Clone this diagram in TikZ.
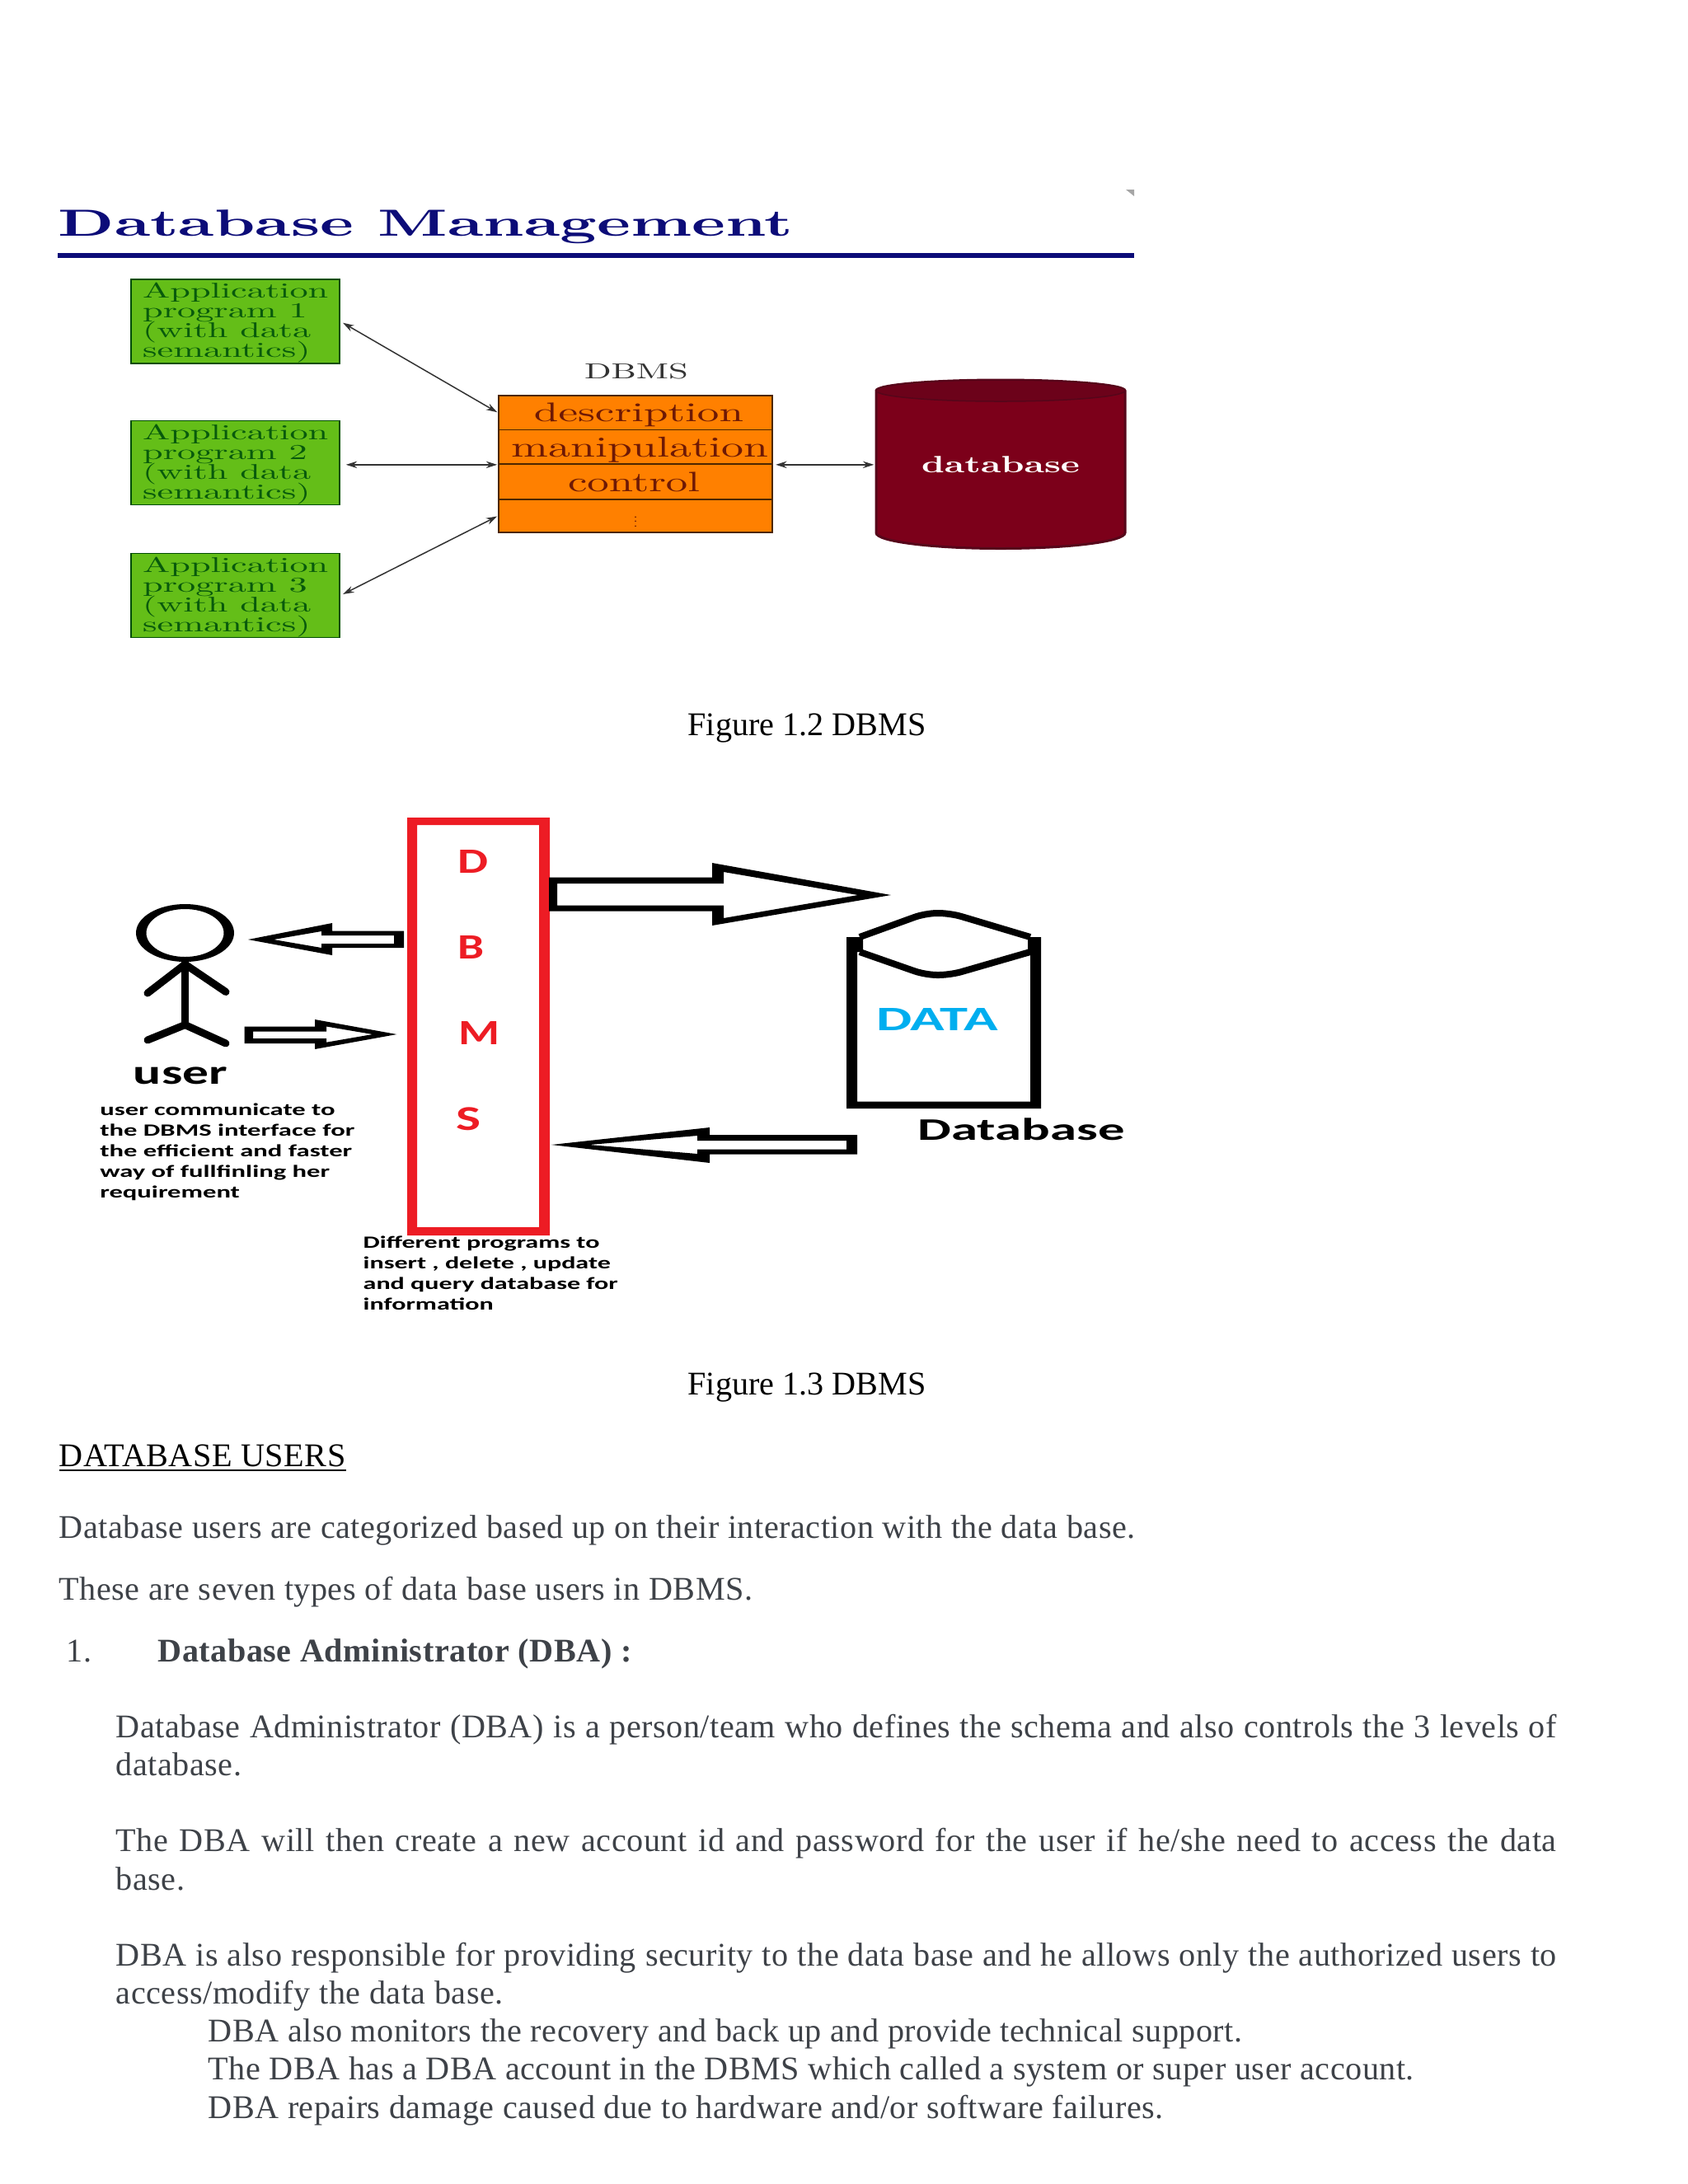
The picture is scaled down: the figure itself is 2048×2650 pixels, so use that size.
\documentclass[tikz,border=0pt]{standalone}
\usepackage{fontspec}
\usepackage{xcolor}
\usepackage{graphicx}
\usetikzlibrary{arrows.meta}
\newfontfamily\capfont{Liberation Serif}
\newfontfamily\bodyfont[LetterSpace=1.33]{Liberation Serif}
\newfontfamily\calfont{Carlito}
\definecolor{titlecol}{RGB}{12,12,120}
\definecolor{appcol}{RGB}{100,190,24}
\definecolor{apptext}{RGB}{8,90,12}
\definecolor{dbmscol}{RGB}{255,128,0}
\definecolor{dbmstext}{RGB}{110,25,5}
\definecolor{cylcol}{RGB}{124,0,26}
\definecolor{cyltop}{RGB}{108,2,26}
\definecolor{cyledge}{RGB}{86,6,26}
\definecolor{framecol}{RGB}{237,28,36}
\definecolor{datacol}{RGB}{0,174,239}
\definecolor{bodycol}{RGB}{62,66,72}
\newlength\pxu
\setlength\pxu{0.29883pt}
% squeeze text into a box measured in reference pixels
\newcommand{\fitbox}[3]{\resizebox*{#1\pxu}{#2\pxu}{\begin{tabular}{@{}l@{}}#3\end{tabular}}}
\newcommand{\fitline}[3]{\resizebox*{#1\pxu}{#2\pxu}{#3}}
% tight lines for the program boxes
\newcommand{\tightbox}[3]{\raisebox{-3\pxu}[\height][\depth]{\resizebox*{#1\pxu}{#2\pxu}{\fontsize{10}{9.3}\selectfont\begin{tabular}{@{}l@{}}#3\end{tabular}}}}
\begin{document}
\begin{tikzpicture}[
  x=0.29883pt, y=-0.29883pt,
  appbox/.style={rectangle, draw=black!70!green, fill=appcol, line width=0.5pt,
                 minimum width=253\pxu, minimum height=102\pxu, inner sep=0pt},
  cell/.style={rectangle, draw=black!70!dbmscol, fill=dbmscol, line width=0.5pt,
               minimum width=332\pxu, inner sep=0pt},
  celltxt/.style={inner sep=0pt, text=dbmstext},
  dbl/.style={{Stealth[length=4pt,width=2.5pt]}-{Stealth[length=4pt,width=2.5pt]},
              line width=0.45pt, black!80},
  ink/.style={fill=black, even odd rule},
  stick/.style={draw=black, line width=9\pxu, line cap=round},
  para/.style={anchor=base west, inner sep=0pt, font=\bodyfont\fontsize{12}{14}\selectfont, text=bodycol},
  figcap/.style={anchor=base, inner sep=0pt, font=\capfont\fontsize{12}{14}\selectfont},
  lab/.style={inner sep=0pt},
]
  \useasboundingbox (0,0) rectangle (2048,2650);

  % Figure 1.2: slide header
  \node[lab, anchor=south west, text=titlecol, font=\bfseries] (title) at (70,296)
    {\fitline{891}{41}{Database Management}};
  \draw[titlecol, line width=6\pxu] (70,310) coordinate (ruleL) -- (1376,310) coordinate (ruleR);
  \fill[black!35] (1366,230) -- (1376,230) -- (1376,238) -- cycle;

  % Figure 1.2: application programs
  \foreach \i/\yc in {1/390,2/561.5,3/722.5}{
    \node[appbox] (app\i) at (285.75,\yc) {\color{apptext}\tightbox{225}{96}{\smash{Application}\\\smash{program \i}\\\smash{(with data}\\\smash{semantics)}}};
  }

  % Figure 1.2: DBMS stack
  \node[lab, text=black!80] (dbmshead) at (772,450.5) {\fitline{126}{19}{DBMS}};
  \node[cell, minimum height=41.5\pxu] (descr) at (771,500.75) {};
  \node[cell, minimum height=41.5\pxu] (manip) at (771,542.25) {};
  \node[cell, minimum height=43\pxu] (ctrl)  at (771,584.5) {};
  \node[cell, minimum height=40\pxu] (rest)  at (771,626) {};
  \node[celltxt] (descrtxt) at (775,503.5) {\fitline{254}{29}{description}};
  \node[celltxt] (maniptxt) at (776.5,545.5) {\fitline{311}{31}{manipulation}};
  \node[celltxt] (ctrltxt)  at (769,585) {\fitline{160}{24}{control}};
  \node[celltxt] (resttxt)  at (771,629) {\resizebox*{6\pxu}{20\pxu}{$\vdots$}};

  \filldraw[fill=cylcol, draw=cyledge, line width=3\pxu] (1063,474) arc [start angle=180, end angle=0, x radius=151\pxu, y radius=13\pxu]
    -- (1365,646.5) arc [start angle=0, end angle=-180, x radius=151\pxu, y radius=19\pxu] -- cycle;
  \filldraw[fill=cyltop, draw=cyledge, line width=1.5\pxu] (1214,474) ellipse [x radius=151\pxu, y radius=13\pxu];
  \node[lab, minimum width=304\pxu, minimum height=205\pxu, text=white] (dbcyl) at (1214,563.5)
    {\bfseries\fitline{192}{20}{database}};

  \draw[dbl, shorten <=1pt, shorten >=0.3pt] (app1.east) -- (descr.west);
  \draw[dbl, shorten <=2pt, shorten >=0.3pt] (app2.east |- manip.south) -- (manip.south west);
  \draw[dbl, shorten <=1pt, shorten >=0.3pt] (app3.east) -- (rest.west);
  \draw[dbl, shorten <=1pt, shorten >=0.3pt] (manip.south east) -- (dbcyl.west |- manip.south);

  \node[figcap] (figa) at (979,892) {Figure 1.2 DBMS};

  % Figure 1.3: DBMS frame and letters
  \fill[framecol, even odd rule] (494,992) rectangle (667,1499) (506,1001) rectangle (654,1489);
  \node[lab, text=framecol, font=\calfont\bfseries] (ltrD) at (574,1045.5) {\fitline{37}{28}{D}};
  \node[lab, text=framecol, font=\calfont\bfseries] (ltrB) at (571,1149.5) {\fitline{32}{28}{B}};
  \node[lab, text=framecol, font=\calfont\bfseries] (ltrM) at (581,1253.5) {\fitline{50}{28}{M}};
  \node[lab, text=framecol, font=\calfont\bfseries] (ltrS) at (568.5,1358) {\fitline{30}{28}{S}};

  % Figure 1.3: user
  \fill[ink] (224.5,1132) ellipse [x radius=59.5, y radius=35] (224.5,1132) ellipse [x radius=47, y radius=29];
  \draw[stick] (224.5,1166) -- (224.5,1241);
  \draw[stick] (224.5,1170) -- (179,1205);
  \draw[stick] (224.5,1170) -- (274,1203.5);
  \draw[stick] (224.5,1243.5) -- (179,1262);
  \draw[stick] (224.5,1243.5) -- (274,1266);
  \node[lab, font=\calfont\bfseries] (user) at (219,1305) {\fitline{114}{21}{user}};
  \node[lab, anchor=north west, font=\calfont\bfseries] (usertxt) at (120.7,1335)
    {\fitbox{309}{125}{user communicate to\\the DBMS interface for\\the efficient and faster\\way of fullfinling her\\requirement}};

  % Figure 1.3: database
  \fill[ink] (1027,1137) -- (1047,1137) -- (1047,1155) -- (1040,1155) -- (1040,1336.5) -- (1250,1336.5) -- (1250,1155)
    -- (1247,1155) -- (1247,1137) -- (1263,1137) -- (1263,1345) -- (1027,1345) -- cycle;
  \draw[draw=black, line width=8\pxu, rounded corners=14\pxu]
    (1043,1137) -- (1123,1108) -- (1153,1108) -- (1250,1137);
  \draw[draw=black, line width=8\pxu, rounded corners=14\pxu]
    (1043,1155) -- (1123,1183) -- (1153,1183) -- (1250,1155);
  \node[lab, text=datacol, font=\calfont\bfseries] (datalbl) at (1137,1237) {\fitline{148}{27}{DATA}};
  \node[lab, font=\calfont\bfseries] (dbname) at (1239,1370) {\fitline{251}{27}{Database}};
  \node[lab, anchor=north west, font=\calfont\bfseries] (progtxt) at (440,1496.5)
    {\fitbox{309}{100}{Different programs to\\insert , delete , update\\and query database for\\information}};

  % Figure 1.3: block arrows
  \fill[ink] (490,1129.5) -- (403,1129.5) -- (403,1120) -- (301,1140) -- (403,1159) -- (403,1150) -- (490,1150) -- cycle
    (478,1135) -- (390,1135) -- (390,1130) -- (332,1140) -- (390,1150) -- (390,1145) -- (478,1145) -- cycle;
  \fill[ink] (296.5,1245.5) -- (382,1245.5) -- (382,1237) -- (481.4,1255) -- (382,1273) -- (382,1266) -- (296.5,1266) -- cycle
    (307,1251.6) -- (396,1251.6) -- (396,1245.5) -- (452,1255) -- (396,1264.7) -- (396,1260) -- (307,1260) -- cycle;
  \fill[ink] (666,1064.7) -- (864,1064.7) -- (864,1047) -- (1081,1086) -- (864,1123) -- (864,1105.5) -- (666,1105.5) -- cycle
    (676,1072) -- (878,1072) -- (878,1058) -- (1041,1086) -- (878,1114) -- (878,1098.6) -- (676,1098.6) -- cycle;
  \fill[ink] (1040,1377) -- (861,1377) -- (861,1368) -- (669,1389) -- (861,1411) -- (861,1400.6) -- (1040,1400.6) -- cycle
    (1027,1384) -- (846,1384) -- (846,1378) -- (715,1389) -- (846,1400) -- (846,1394.5) -- (1027,1394.5) -- cycle;

  \node[figcap] (figb) at (979,1692) {Figure 1.3 DBMS};

  % Text below the figures
  \node[para, text=black] (usershead) at (71,1779) {\underline{DATABASE USERS}};
  \node[para] (linea) at (71,1866) {Database users are categorized based up on their interaction with the data base.};
  \node[para] (lineb) at (71,1941) {These are seven types of data base users in DBMS.};
  \node[para] (numa) at (80,2016) {1.};
  \node[para] (dbahead) at (191,2016) {\bfseries Database Administrator (DBA) :};
  \node[para] (parc) at (140,2108) {\makebox[1748\pxu][s]{Database Administrator (DBA) is a person/team who defines the schema and also controls the 3 levels of}};
  \node[para] (pard) at (140,2154) {database.};
  \node[para] (pare) at (140,2246) {\makebox[1748\pxu][s]{The DBA will then create a new account id and password for the user if he/she need to access the data}};
  \node[para] (parf) at (140,2293) {base.};
  \node[para] (parg) at (140,2385) {\makebox[1748\pxu][s]{DBA is also responsible for providing security to the data base and he allows only the authorized users to}};
  \node[para] (parh) at (140,2431) {access/modify the data base.};
  \node[para] (ptone) at (252,2477) {DBA also monitors the recovery and back up and provide technical support.};
  \node[para] (pttwo) at (252,2523) {The DBA has a DBA account in the DBMS which called a system or super user account.};
  \node[para] (ptthree) at (252,2570) {DBA repairs damage caused due to hardware and/or software failures.};
\end{tikzpicture}
\end{document}
